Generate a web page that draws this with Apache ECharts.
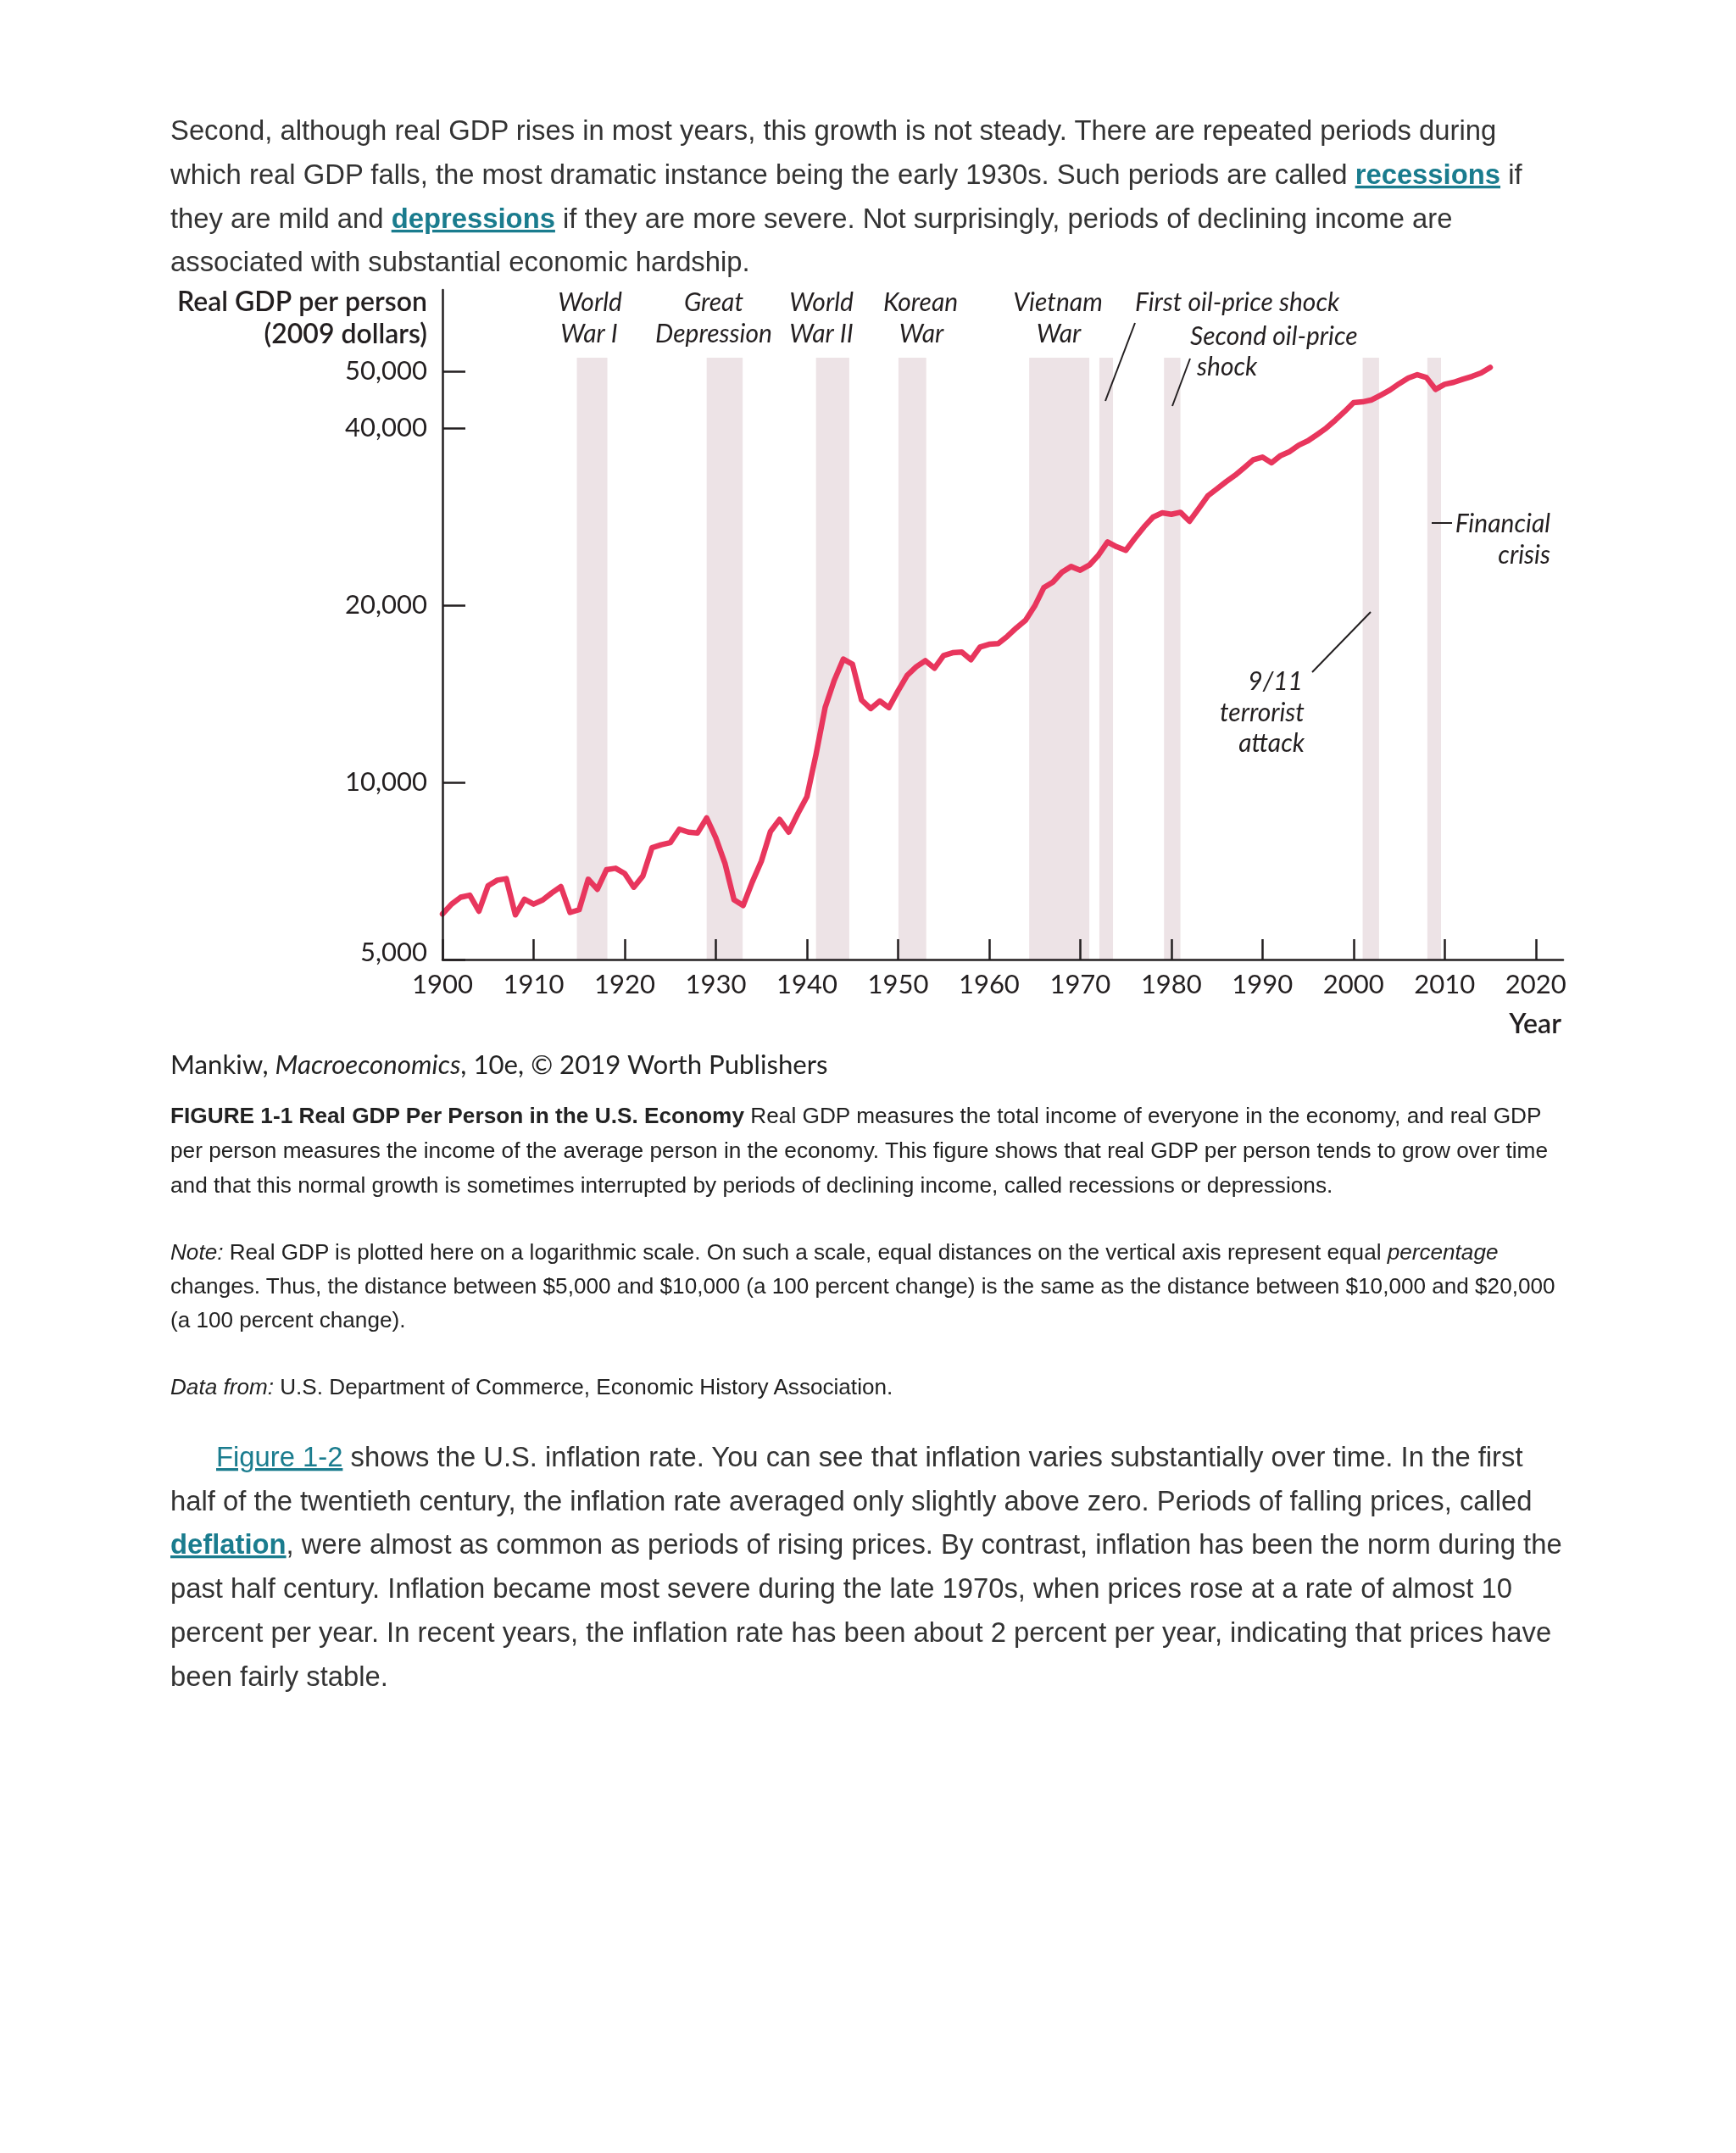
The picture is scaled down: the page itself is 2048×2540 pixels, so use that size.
<!DOCTYPE html>
<html><head><meta charset="utf-8">
<script src="https://cdn.jsdelivr.net/npm/echarts@6/dist/echarts.min.js"></script>
<style>
html,body{margin:0;padding:0;background:#fff;}
#page{position:relative;width:2048px;height:2540px;overflow:hidden;background:#fff;}
#chart{position:absolute;left:0;top:0;width:2048px;height:1240px;}
#txt{position:absolute;left:0;top:0;pointer-events:none;}
</style></head><body>
<div id="page"><div id="chart"></div><svg id="txt" width="2048" height="2540" xmlns="http://www.w3.org/2000/svg"></svg></div>
<script>
// ---------------- DATA ----------------
const firstYear = 1900;
const gdpPerPerson = [
  5975, 6210, 6380, 6430, 6040, 6670, 6820, 6860, 5955, 6330,   // 1900-1909
  6210, 6310, 6490, 6650, 6010, 6075, 6845, 6580, 7105, 7145,   // 1910-1919
  7000, 6635, 6935, 7745, 7835, 7900, 8325, 8230, 8205, 8700,   // 1920-1929
  8050, 7290, 6315, 6175, 6770, 7345, 8250, 8650, 8230, 8845,   // 1930-1939
  9450, 11150, 13400, 14900, 16200, 15880, 13800, 13350, 13750, 13400, // 1940-1949
  14300, 15200, 15720, 16100, 15630, 16430, 16610, 16650, 16160, 16980, // 1950-1959
  17170, 17210, 17710, 18310, 18860, 19930, 21420, 21900, 22760, 23270, // 1960-1969
  22940, 23400, 24330, 25620, 25140, 24790, 25990, 27170, 28240, 28710, // 1970-1979
  28550, 28770, 27780, 29190, 30680, 31540, 32420, 33260, 34270, 35340, // 1980-1989
  35700, 34920, 35930, 36500, 37430, 38060, 39000, 40000, 41260, 42650, // 1990-1999
  44190, 44330, 44680, 45530, 46440, 47590, 48650, 49300, 48760, 46550, // 2000-2009
  47480, 47850, 48440, 48970, 49630, 50730                              // 2010-2015
];
const years = gdpPerPerson.map((_, i) => firstYear + i);

// shaded periods (years)
const bandNames = ['World War I', 'Great Depression', 'World War II', 'Korean War', 'Vietnam War',
                   'First oil-price shock', 'Second oil-price shock', '9/11 terrorist attack', 'Financial crisis'];
const bandStart = [1914.75, 1929.0, 1941.0, 1950.05, 1964.4, 1972.1, 1979.2, 2001.0, 2008.1];
const bandEnd   = [1918.1, 1932.95, 1944.65, 1953.1, 1971.0, 1973.6, 1981.0, 2002.8, 2009.6];
const bandTop = 52700;

// axis ticks
const xTicks = [1900, 1910, 1920, 1930, 1940, 1950, 1960, 1970, 1980, 1990, 2000, 2010, 2020];
const yTicks = [5000, 10000, 20000, 40000, 50000];
const xMin = 1900, xMax = 2023, yMin = 4999.5, yMax = 68700;

// ---------------- CHART ----------------
const INK = '#231f20';
const FONT = 'Lato';
const ANN = 'italic 30px Lato';
const annotations = [
  ['World', 696, 357, 'center'], ['War I', 695, 394, 'center'],
  ['Great', 842, 357, 'center'], ['Depression', 842, 394, 'center'],
  ['World', 969, 357, 'center'], ['War II', 969, 394, 'center'],
  ['Korean', 1086, 357, 'center'], ['War', 1087, 394, 'center'],
  ['Vietnam', 1248, 357, 'center'], ['War', 1249, 394, 'center'],
  ['First oil-price shock', 1339, 357, 'left'],
  ['Second oil-price', 1404, 397, 'left'],
  ['shock', 1412, 433, 'left'],
  ['Financial', 1829, 618, 'right'], ['crisis', 1829, 655, 'right'],
  ['9/11', 1537, 804, 'right'], ['terrorist', 1539, 841, 'right'], ['attack', 1539, 877, 'right']
];
const leaders = [
  [1339, 381, 1304, 473], [1404, 423, 1383, 479], [1617, 722, 1548, 793], [1689, 617, 1713, 617]
];

const graphics = [];
annotations.forEach(a => graphics.push({
  type: 'text', silent: true, z: 100,
  style: { text: a[0], x: a[1], y: a[2], font: ANN, fill: INK, textAlign: a[3], textVerticalAlign: 'middle' }
}));
leaders.forEach(l => graphics.push({
  type: 'line', silent: true, z: 100,
  shape: { x1: l[0], y1: l[1], x2: l[2], y2: l[3] },
  style: { stroke: INK, lineWidth: 2 }
}));
graphics.push({ type: 'text', silent: true, z: 100, style: { text: 'Real GDP per person', x: 504, y: 357, font: '600 32px Lato', fill: INK, textAlign: 'right', textVerticalAlign: 'middle' } });
graphics.push({ type: 'text', silent: true, z: 100, style: { text: '(2009 dollars)', x: 504, y: 395, font: '600 32px Lato', fill: INK, textAlign: 'right', textVerticalAlign: 'middle' } });
graphics.push({ type: 'text', silent: true, z: 100, style: { text: 'Year', x: 1842, y: 1209, font: '600 32px Lato', fill: INK, textAlign: 'right', textVerticalAlign: 'middle' } });

const chart = echarts.init(document.getElementById('chart'), null, { renderer: 'canvas' });
chart.setOption({
  animation: false,
  backgroundColor: 'transparent',
  grid: { left: 522, top: 342, width: 1322, height: 790, containLabel: false, outerBoundsMode: 'none' },
  xAxis: {
    type: 'value', min: xMin, max: xMax, z: 10,
    axisLine: { show: true, lineStyle: { color: INK, width: 2.5 } },
    axisTick: { show: true, inside: true, length: 24, customValues: xTicks, lineStyle: { color: INK, width: 2.5 } },
    axisLabel: { customValues: xTicks, margin: 14, fontFamily: FONT, fontSize: 31, color: INK, formatter: v => String(Math.round(v)) },
    splitLine: { show: false }
  },
  yAxis: {
    type: 'log', logBase: 10, min: yMin, max: yMax, z: 10,
    axisLine: { show: true, lineStyle: { color: INK, width: 2.5 } },
    axisTick: { show: true, inside: true, length: 27, customValues: yTicks, lineStyle: { color: INK, width: 2.5 } },
    axisLabel: { customValues: yTicks, margin: 18, fontFamily: FONT, fontSize: 31, lineHeight: 16, color: INK,
      verticalAlignMinLabel: 'bottom',
      formatter: v => Math.round(v).toLocaleString('en-US') },
    splitLine: { show: false }
  },
  series: [{
    type: 'line', name: 'Real GDP per person',
    data: years.map((y, i) => [y, gdpPerPerson[i]]),
    showSymbol: false, symbol: 'none', z: 3,
    lineStyle: { color: '#e8365d', width: 6.5, cap: 'round', join: 'round' },
    markArea: {
      silent: true, z: 1,
      itemStyle: { color: '#ede3e6' },
      label: { show: false },
      data: bandStart.map((s, i) => [{ name: bandNames[i], xAxis: s, yAxis: 5000 }, { xAxis: bandEnd[i], yAxis: bandTop }])
    }
  }],
  graphic: graphics
});

// ---------------- PAGE TEXT ----------------
const NS = 'http://www.w3.org/2000/svg';
const TXT = '#333333', LINK = '#1a7c8e';
const SANS = '"Liberation Sans", Arial, sans-serif';
const blocks = [
  { fam: SANS, color: TXT, xs: [201, 201, 201, 201], base: [165, 217, 269, 320], fit: 0, right: 1767, lines: [
    [['Second, although real GDP rises in most years, this growth is not steady. There are repeated periods during', 'n']],
    [['which real GDP falls, the most dramatic instance being the early 1930s. Such periods are called ', 'n'], ['recessions', 'lb'], [' if', 'n']],
    [['they are mild and ', 'n'], ['depressions', 'lb'], [' if they are more severe. Not surprisingly, periods of declining income are', 'n']],
    [['associated with substantial economic hardship.', 'n']]
  ]},
  { fam: 'Lato', color: '#222222', xs: [201], base: [1267], fit: 0, right: 977, lines: [
    [['Mankiw, ', 'n'], ['Macroeconomics', 'i'], [', 10e, \u00A9 2019 Worth Publishers', 'n']]
  ]},
  { fam: SANS, color: '#222222', xs: [201, 201, 201], base: [1325, 1366, 1407], fit: 0, right: 1820, lines: [
    [['FIGURE 1-1 Real GDP Per Person in the U.S. Economy', 'b'], [' Real GDP measures the total income of everyone in the economy, and real GDP', 'n']],
    [['per person measures the income of the average person in the economy. This figure shows that real GDP per person tends to grow over time', 'n']],
    [['and that this normal growth is sometimes interrupted by periods of declining income, called recessions or depressions.', 'n']]
  ]},
  { fam: SANS, color: '#222222', xs: [201, 201, 201], base: [1486, 1526, 1566], fit: 1, right: 1836, lines: [
    [['Note:', 'i'], [' Real GDP is plotted here on a logarithmic scale. On such a scale, equal distances on the vertical axis represent equal ', 'n'], ['percentage', 'i']],
    [['changes. Thus, the distance between $5,000 and $10,000 (a 100 percent change) is the same as the distance between $10,000 and $20,000', 'n']],
    [['(a 100 percent change).', 'n']]
  ]},
  { fam: SANS, color: '#222222', xs: [201], base: [1645], fit: 0, right: 1055, lines: [
    [['Data from:', 'i'], [' U.S. Department of Commerce, Economic History Association.', 'n']]
  ]},
  { fam: SANS, color: TXT, xs: [255, 201, 201, 201, 201, 201], base: [1730, 1782, 1833, 1885, 1937, 1989], fit: 2, right: 1843, lines: [
    [['Figure 1-2', 'l'], [' shows the U.S. inflation rate. You can see that inflation varies substantially over time. In the first', 'n']],
    [['half of the twentieth century, the inflation rate averaged only slightly above zero. Periods of falling prices, called', 'n']],
    [['deflation', 'lb'], [', were almost as common as periods of rising prices. By contrast, inflation has been the norm during the', 'n']],
    [['past half century. Inflation became most severe during the late 1970s, when prices rose at a rate of almost 10', 'n']],
    [['percent per year. In recent years, the inflation rate has been about 2 percent per year, indicating that prices have', 'n']],
    [['been fairly stable.', 'n']]
  ]}
];

const mctx = document.createElement('canvas').getContext('2d');
function segFont(k, size, fam) {
  return (k.indexOf('i') >= 0 ? 'italic ' : 'normal ') + (k.indexOf('b') >= 0 ? '700 ' : '400 ') + size + 'px ' + fam;
}
function lineWidth(line, size, fam) {
  let w = 0;
  line.forEach(([t, k]) => { mctx.font = segFont(k, size, fam); w += mctx.measureText(t).width; });
  return w;
}
const svg = document.getElementById('txt');
blocks.forEach(b => {
  const size = 100 * (b.right - b.xs[b.fit]) / lineWidth(b.lines[b.fit], 100, b.fam);
  b.lines.forEach((line, i) => {
    const t = document.createElementNS(NS, 'text');
    t.setAttribute('x', b.xs[i]);
    t.setAttribute('y', b.base[i]);
    t.setAttribute('font-size', size.toFixed(2));
    t.setAttribute('font-family', b.fam);
    t.setAttribute('fill', b.color);
    t.setAttribute('style', 'white-space:pre');
    line.forEach(([txt, k]) => {
      const s = document.createElementNS(NS, 'tspan');
      if (k.indexOf('b') >= 0) s.setAttribute('font-weight', '700');
      if (k.indexOf('i') >= 0) s.setAttribute('font-style', 'italic');
      if (k.indexOf('l') >= 0) { s.setAttribute('fill', LINK); s.setAttribute('text-decoration', 'underline'); }
      s.textContent = txt;
      t.appendChild(s);
    });
    svg.appendChild(t);
  });
});
</script></body></html>
